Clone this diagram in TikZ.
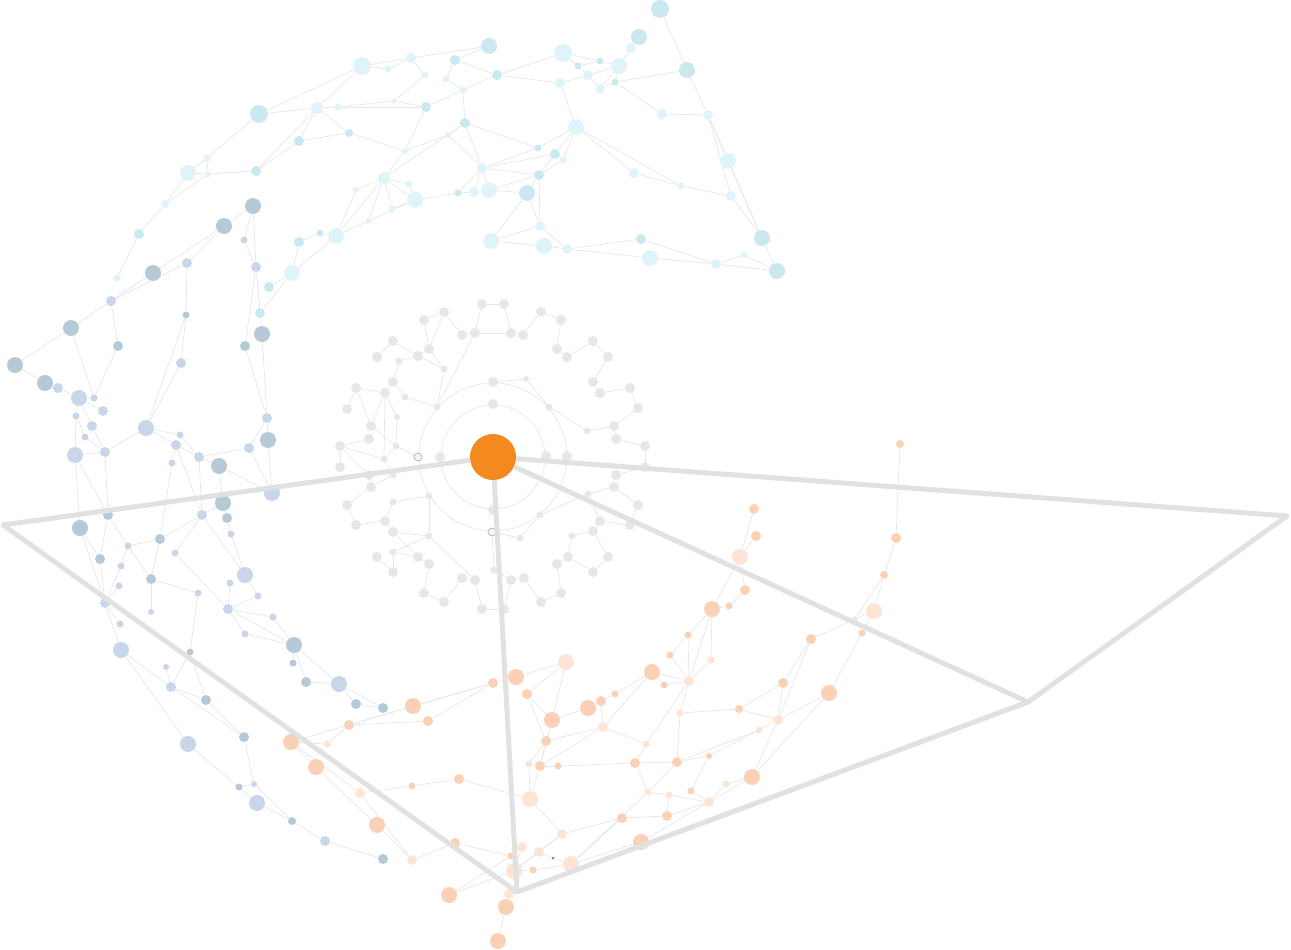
\documentclass[tikz,border=0pt]{standalone}
\usetikzlibrary{backgrounds}
\definecolor{cydark}{HTML}{C9E8EF}
\definecolor{cylight}{HTML}{DFF4FA}
\definecolor{bgdark}{HTML}{B5C9D6}
\definecolor{bllight}{HTML}{C7D6E9}
\definecolor{grdot}{HTML}{E6E7E8}
\definecolor{ordot}{HTML}{FAD1B4}
\definecolor{oldot}{HTML}{FDE4D5}
\definecolor{hubcol}{HTML}{F4891F}
\definecolor{framecol}{HTML}{E1E1E1}
\definecolor{edgecol}{HTML}{E6E6E6}

\begin{document}
\begin{tikzpicture}[x=1pt, y=-1pt,
    dot/.style={circle, inner sep=0pt, draw=none},
    cy/.style={dot, fill=cydark},
    cl/.style={dot, fill=cylight},
    bg/.style={dot, fill=bgdark},
    bl/.style={dot, fill=bllight},
    gr/.style={dot, fill=grdot},
    or/.style={dot, fill=ordot},
    ol/.style={dot, fill=oldot},
    hollow/.style={circle, inner sep=0pt, draw=gray!70, fill=gray!8, line width=0.6pt, minimum size=8pt},
    edge/.style={draw=edgecol, line width=0.7pt},
    ring/.style={draw=edgecol, line width=0.7pt},
    frame/.style={draw=framecol, line width=5pt, line join=round}]
  \useasboundingbox (0,0) rectangle (1291,950);

  \node[dot, fill=hubcol, minimum size=46pt] (hub) at (493,457) {};

  \foreach \x/\y/\r in {259/114/9, 426/107/5, 299/141/5, 349/133/4, 256/171/5, 139/234/5, 320/233/3.5,
      299/242/5, 269/287/5, 260/313/5, 660/9/9, 639/37/8, 600/61/3.5, 578/66/3.5, 615/82/3.5, 687/70/8,
      489/46/8, 455/60/5, 497/75/5, 465/123/5, 538/148/3.5, 555/154/5, 539/175/5, 458/193/3.5,
      527/193/8, 641/239/5, 762/238/8, 777/271/8}
    \node[cy, minimum size={2pt*\r}] (p\x x\y) at (\x,\y) {};
  \foreach \x/\y/\r in {362/66/9, 388/69/3.5, 411/58/5, 425/75/3.5, 317/108/6, 338/107/3.5, 394/101/2.5,
      405/151/3, 207/158/3.5, 188/173/8, 208/174/3, 384/178/6, 409/184/3.5, 356/190/3, 415/200/8,
      392/209/3.5, 368/221/3, 165/204/4, 117/278/3.5, 336/236/8, 292/273/8, 631/48/5, 619/66/8,
      563/53/9, 588/75/5, 560/83/5, 600/89/5, 446/79/3.5, 463/90/3.5, 448/135/3, 576/127/8,
      662/114/5, 708/115/5, 563/160/3.5, 482/168/5, 474/192/5, 489/190/8, 634/173/5, 681/186/3.5,
      728/161/8, 731/196/5, 540/226/5, 491/241/8, 544/246/8, 567/249/5, 650/258/8, 716/264/5,
      744/255/3.5}
    \node[cl, minimum size={2pt*\r}] (p\x x\y) at (\x,\y) {};
  \foreach \x/\y/\r in {253/206/8, 224/226/8, 153/273/8, 186/315/3.5, 71/328/8, 118/346/5, 15/365/8,
      45/383/8, 219/466/8, 268/440/8, 262/334/8, 245/346/5, 223/503/8, 227/518/5, 108/515/5,
      80/528/8, 100/559/5, 160/539/5, 151/579/5, 294/645/8, 190/652/3.5, 206/700/5, 244/737/5,
      239/787/3.5, 292/821/4, 383/859/5, 293/663/3.5, 306/682/5, 356/704/5, 383/708/5}
    \node[bg, minimum size={2pt*\r}] (p\x x\y) at (\x,\y) {};
  \foreach \x/\y/\r in {244/240/3.5, 256/267/5, 187/263/5, 111/301/5, 181/363/5, 58/388/5, 79/398/8,
      94/398/3.5, 103/411/5, 76/416/3.5, 92/426/5, 85/437/3.5, 105/452/5, 75/455/8, 146/428/8,
      180/435/3.5, 176/445/5, 172/463/3.5, 199/457/5, 249/448/5, 267/418/5, 272/493/8, 231/534/3.5,
      202/515/5, 128/546/3.5, 121/566/3.5, 119/586/3.5, 175/553/3.5, 151/612/3, 120/624/3.5,
      105/603/5, 198/593/3.5, 245/575/8, 230/583/3.5, 258/596/3.5, 228/609/5, 273/617/3.5,
      245/634/3.5, 121/650/8, 166/667/3, 171/687/5, 188/744/8, 254/784/3, 257/803/8, 325/841/5,
      339/684/8}
    \node[bl, minimum size={2pt*\r}] (p\x x\y) at (\x,\y) {};
  \foreach \x/\y/\r in {482/304/5, 504/304/5, 444/312/5, 424/320/5, 541/312/5, 561/320/5, 462/335/5,
      475/333/5, 511/333/5, 523/335/5, 429/349/5, 418/356/5, 399/361/3.5, 393/341/5, 377/357/5,
      444/369/3.5, 557/349/5, 567/357/5, 593/341/5, 608/357/5, 393/382/5, 405/397/3.5, 385/393/5,
      356/388/5, 347/409/5, 371/426/5, 369/439/5, 397/417/3, 437/407/3.5, 493/382/5, 526/379/3,
      493/404/5, 549/407/3.5, 593/382/5, 600/393/5, 630/388/5, 638/408/5, 614/426/5, 616/439/5,
      587/431/3.5, 645/446/5, 645/467/5, 616/475/5, 614/487/5, 588/494/3.5, 638/505/5, 630/525/5,
      600/521/5, 593/531/5, 572/536/3.5, 608/557/5, 593/572/5, 568/557/5, 557/564/5, 561/593/5,
      541/602/5, 524/578/5, 511/580/5, 504/609/5, 482/609/5, 475/580/5, 462/578/5, 444/602/5,
      424/593/5, 429/564/5, 418/557/5, 393/572/5, 377/557/5, 393/552/3.5, 393/532/5, 385/521/5,
      356/525/5, 347/505/5, 371/487/5, 369/475/5, 393/502/3.5, 393/475/3.5, 384/459/3.5,
      396/446/3.5, 340/446/5, 340/467/5, 429/496/3.5, 429/536/3.5, 440/457/5, 493/510/5,
      520/538/3.5, 540/515/3.5, 546/456/5, 567/456/5, 494/570/3.5}
    \node[gr, minimum size={2pt*\r}] (p\x x\y) at (\x,\y) {};
  \foreach \x/\y in {418/457, 492/532}
    \node[hollow] (p\x x\y) at (\x,\y) {};
  \foreach \x/\y/\r in {900/444/4, 896/538/5, 884/575/4, 862/633/3.5, 811/639/5, 829/693/8, 783/683/5,
      754/509/5, 756/536/5, 745/590/5, 712/609/8, 729/606/3.5, 688/635/3.5, 670/655/3.5, 652/672/8,
      664/685/3.5, 615/694/3.5, 601/701/5, 588/708/8, 516/677/8, 493/683/5, 527/694/5, 552/720/8,
      546/741/5, 739/709/4, 677/762/5, 635/763/5, 709/756/3, 540/766/5, 558/766/3.5, 459/779/5,
      691/791/3.5, 752/777/8, 667/816/5, 622/818/5, 641/842/8, 455/843/5, 511/856/3.5, 533/870/3.5,
      449/895/8, 506/907/8, 498/941/8, 413/706/8, 349/725/5, 291/742/8, 316/767/8, 412/786/3.5,
      377/825/8, 428/721/5}
    \node[or, minimum size={2pt*\r}] (p\x x\y) at (\x,\y) {};
  \foreach \x/\y/\r in {740/557/8, 874/611/8, 855/619/3, 711/660/3.5, 689/681/5, 566/662/8, 603/727/5,
      680/713/3.5, 778/720/5, 759/730/3.5, 646/744/3.5, 529/764/3.5, 530/799/8, 648/792/3.5,
      669/795/3.5, 709/802/5, 726/784/3.5, 562/834/5, 522/847/5, 539/852/5, 571/864/8, 514/871/8,
      509/894/5, 327/744/3.5, 360/793/5, 412/860/5}
    \node[ol, minimum size={2pt*\r}] (p\x x\y) at (\x,\y) {};
  \node[dot, fill=gray, minimum size=3pt] (p553x858) at (553,858) {};

  \begin{scope}[on background layer]
    \draw[ring] (hub) circle[radius=52pt];
    \draw[ring] (hub) circle[radius=74pt];
    % cyan
    \foreach \a/\b in {362x66/411x58, 362x66/388x69, 388x69/411x58, 411x58/489x46, 411x58/425x75,
        362x66/259x114, 362x66/317x108, 259x114/317x108, 259x114/207x158, 317x108/338x107,
        338x107/394x101, 394x101/426x107, 338x107/426x107, 394x101/425x75, 317x108/299x141,
        317x108/349x133, 317x108/256x171, 299x141/349x133, 299x141/256x171, 349x133/405x151,
        426x107/405x151, 405x151/384x178, 405x151/448x135, 384x178/465x123, 207x158/208x174,
        207x158/188x173, 188x173/208x174, 208x174/256x171, 188x173/165x204, 208x174/165x204,
        165x204/139x234, 139x234/117x278, 384x178/356x190, 384x178/409x184, 384x178/415x200,
        384x178/392x209, 384x178/368x221, 384x178/336x236, 409x184/415x200, 392x209/415x200,
        368x221/415x200, 356x190/336x236, 336x236/320x233, 320x233/299x242, 336x236/292x273,
        299x242/292x273, 292x273/269x287, 292x273/260x313, 368x221/336x236, 415x200/458x193,
        660x9/687x70, 687x70/708x115, 687x70/615x82, 639x37/631x48, 631x48/619x66, 619x66/600x61,
        619x66/588x75, 619x66/600x89, 600x61/578x66, 578x66/563x53, 563x53/600x61, 578x66/588x75,
        588x75/560x83, 588x75/600x89, 600x89/615x82, 615x82/619x66, 563x53/497x75, 497x75/560x83,
        560x83/576x127, 615x82/662x114, 662x114/708x115, 708x115/728x161, 708x115/762x238,
        728x161/762x238, 708x115/731x196, 731x196/762x238, 762x238/777x271, 731x196/681x186,
        681x186/634x173, 681x186/576x127, 634x173/576x127, 576x127/538x148, 576x127/555x154,
        576x127/563x160, 538x148/482x168, 538x148/465x123, 555x154/482x168, 555x154/539x175,
        563x160/539x175, 482x168/465x123, 482x168/448x135, 482x168/539x175, 482x168/458x193,
        482x168/474x192, 482x168/489x190, 489x190/527x193, 489x190/539x175, 527x193/539x175,
        539x175/540x226, 527x193/540x226, 527x193/491x241, 540x226/491x241, 540x226/567x249,
        491x241/544x246, 544x246/567x249, 567x249/641x239, 567x249/650x258, 650x258/716x264,
        641x239/716x264, 716x264/744x255, 744x255/777x271, 716x264/777x271, 489x46/455x60,
        455x60/446x79, 455x60/497x75, 446x79/463x90, 463x90/497x75, 463x90/465x123,
        463x90/426x107, 465x123/448x135, 458x193/474x192}
      \draw[edge] (p\a) -- (p\b);
    % blue
    \foreach \a/\b in {253x206/224x226, 253x206/244x240, 253x206/256x267, 244x240/256x267,
        224x226/153x273, 224x226/187x263, 153x273/111x301, 187x263/111x301, 187x263/186x315,
        256x267/245x346, 256x267/262x334, 111x301/118x346, 71x328/111x301, 71x328/15x365,
        71x328/94x398, 118x346/94x398, 15x365/45x383, 45x383/58x388, 58x388/79x398, 79x398/94x398,
        79x398/103x411, 79x398/76x416, 79x398/92x426, 92x426/105x452, 85x437/76x416,
        85x437/105x452, 76x416/75x455, 75x455/108x515, 75x455/80x528, 105x452/108x515,
        105x452/146x428, 146x428/181x363, 146x428/186x315, 181x363/186x315, 146x428/180x435,
        146x428/176x445, 180x435/199x457, 176x445/172x463, 176x445/199x457, 199x457/249x448,
        249x448/267x418, 262x334/267x418, 245x346/267x418, 267x418/268x440, 268x440/272x493,
        249x448/272x493, 199x457/202x515, 199x457/219x466, 219x466/272x493, 219x466/223x503,
        176x445/202x515, 172x463/160x539, 160x539/128x546, 160x539/202x515, 202x515/223x503,
        202x515/175x553, 202x515/245x575, 223x503/227x518, 227x518/231x534, 231x534/245x575,
        128x546/121x566, 108x515/128x546, 108x515/100x559, 128x546/151x579, 160x539/151x579,
        151x579/151x612, 151x579/198x593, 198x593/190x652, 175x553/228x609, 228x609/230x583,
        228x609/258x596, 228x609/273x617, 228x609/245x634, 228x609/294x645, 245x575/258x596,
        273x617/294x645, 245x634/294x645, 294x645/293x663, 294x645/306x682, 294x645/339x684,
        306x682/339x684, 339x684/356x704, 339x684/383x708, 356x704/383x708, 80x528/100x559,
        100x559/105x603, 105x603/119x586, 105x603/121x566, 105x603/121x650, 105x603/120x624,
        121x650/171x687, 121x650/188x744, 171x687/190x652, 171x687/166x667, 171x687/206x700,
        171x687/244x737, 206x700/244x737, 190x652/206x700, 244x737/254x784, 188x744/257x803,
        239x787/254x784, 254x784/292x821, 257x803/292x821, 292x821/325x841, 325x841/383x859,
        80x528/105x603, 75x455/105x452}
      \draw[edge] (p\a) -- (p\b);
    % grey
    \foreach \a/\b in {482x304/504x304, 482x304/475x333, 504x304/511x333, 475x333/511x333,
        444x312/462x335, 444x312/424x320, 444x312/429x349, 424x320/429x349, 475x333/437x407,
        429x349/444x369, 418x356/444x369, 418x356/399x361, 399x361/393x382, 393x341/377x357,
        393x341/418x356, 429x349/418x356, 444x369/437x407, 393x382/405x397, 405x397/437x407,
        385x393/393x382, 385x393/356x388, 356x388/371x426, 385x393/371x426, 385x393/397x417,
        397x417/396x446, 371x426/396x446, 369x439/340x446, 340x446/340x467, 340x446/384x459,
        340x446/369x475, 385x393/384x459, 347x409/356x388, 396x446/418x457, 541x312/561x320,
        541x312/523x335, 561x320/557x349, 557x349/567x357, 567x357/593x341, 593x341/608x357,
        608x357/593x382, 593x382/600x393, 600x393/630x388, 630x388/638x408, 638x408/614x426,
        614x426/587x431, 587x431/549x407, 549x407/526x379, 526x379/493x382, 616x439/645x446,
        645x446/645x467, 616x475/645x467, 614x487/638x505, 638x505/630x525, 630x525/600x521,
        600x521/588x494, 588x494/614x487, 614x426/616x439, 593x531/572x536, 572x536/568x557,
        593x531/608x557, 608x557/593x572, 568x557/593x572, 557x564/561x593, 561x593/541x602,
        541x602/524x578, 524x578/511x580, 511x580/504x609, 504x609/482x609, 482x609/475x580,
        475x580/462x578, 462x578/444x602, 444x602/424x593, 424x593/429x564, 429x564/418x557,
        418x557/393x552, 393x572/377x557, 393x572/393x552, 393x552/429x536, 393x532/429x536,
        385x521/393x502, 393x502/429x496, 356x525/347x505, 347x505/371x487, 371x487/393x475,
        393x475/384x459, 384x459/396x446, 429x496/429x536, 429x536/475x580, 520x538/540x515,
        492x532/520x538, 494x570/492x532, 494x570/511x580, 475x333/462x335, 511x333/523x335,
        540x515/588x494, 385x521/356x525, 369x475/371x487, 393x532/385x521, 600x521/593x531,
        557x564/568x557, 418x557/393x532}
      \draw[edge] (p\a) -- (p\b);
    % orange
    \foreach \a/\b in {900x444/896x538, 896x538/884x575, 884x575/874x611, 884x575/855x619,
        855x619/811x639, 874x611/862x633, 862x633/829x693, 874x611/855x619, 811x639/783x683,
        811x639/778x720, 783x683/778x720, 783x683/739x709, 739x709/778x720, 778x720/759x730,
        778x720/752x777, 829x693/778x720, 829x693/752x777, 759x730/677x762, 759x730/709x756,
        754x509/740x557, 756x536/740x557, 740x557/745x590, 740x557/712x609, 745x590/729x606,
        712x609/729x606, 712x609/688x635, 712x609/689x681, 712x609/711x660, 688x635/689x681,
        688x635/670x655, 670x655/689x681, 711x660/689x681, 652x672/689x681, 652x672/664x685,
        664x685/689x681, 652x672/615x694, 652x672/603x727, 689x681/680x713, 689x681/646x744,
        680x713/739x709, 680x713/677x762, 646x744/635x763, 677x762/635x763, 677x762/648x792,
        677x762/709x756, 709x756/691x791, 635x763/648x792, 648x792/669x795, 669x795/709x802,
        691x791/709x802, 669x795/667x816, 709x802/726x784, 726x784/752x777, 709x802/752x777,
        709x802/667x816, 709x802/641x842, 667x816/622x818, 635x763/558x766, 648x792/571x864,
        622x818/562x834, 566x662/516x677, 566x662/527x694, 566x662/552x720, 516x677/493x683,
        493x683/428x721, 493x683/349x725, 527x694/552x720, 527x694/546x741, 552x720/588x708,
        552x720/540x766, 588x708/601x701, 601x701/615x694, 601x701/603x727, 603x727/546x741,
        603x727/540x766, 603x727/646x744, 546x741/540x766, 546x741/529x764, 529x764/530x799,
        540x766/530x799, 558x766/540x766, 459x779/530x799, 412x786/459x779, 530x799/562x834,
        562x834/539x852, 562x834/514x871, 522x847/514x871, 539x852/514x871, 533x870/571x864,
        533x870/514x871, 571x864/622x818, 571x864/641x842, 511x856/449x895, 455x843/511x856,
        455x843/412x860, 506x907/498x941, 506x907/509x894, 413x706/349x725, 349x725/327x744,
        349x725/428x721, 291x742/349x725, 291x742/327x744, 291x742/316x767, 291x742/360x793,
        316x767/377x825, 360x793/412x786, 377x825/412x860, 360x793/412x860, 413x706/493x683,
        539x852/553x858, 553x858/571x864, 449x895/514x871}
      \draw[edge] (p\a) -- (p\b);
  \end{scope}

  \coordinate (lt) at (3,525);
  \coordinate (bt) at (517,892);
  \coordinate (rl) at (1028,702);
  \coordinate (fr) at (1287,516);
  \draw[frame] (hub) -- (lt) -- (bt) -- (rl) -- (fr) -- (hub);
  \draw[frame] (hub) -- (bt);
  \draw[frame] (hub) -- (rl);
\end{tikzpicture}
\end{document}
